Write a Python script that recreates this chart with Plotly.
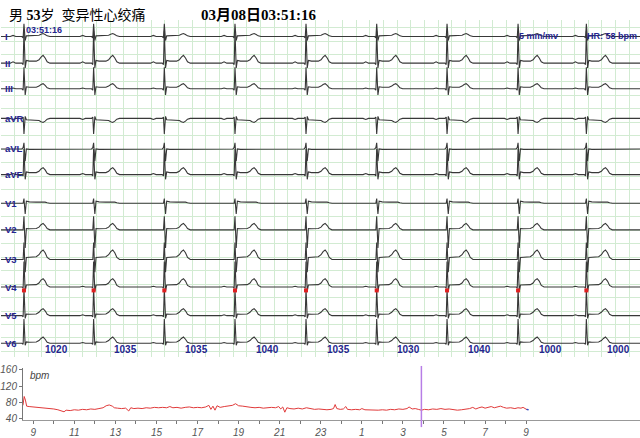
import plotly.graph_objects as go

# ---------------- data ----------------
lead_names = ["I", "II", "III", "aVR", "aVL", "aVF", "V1", "V2", "V3", "V4", "V5", "V6"]
rr_ms = [1020, 1035, 1035, 1040, 1035, 1030, 1040, 1000, 1000]

# time offsets (s) of template points relative to each R peak
beat_offsets_s = [-0.30, -0.20, -0.16, -0.12, -0.03, -0.012, 0.0, 0.018, 0.035,
                  0.08, 0.18, 0.22, 0.25, 0.28, 0.31, 0.34, 0.38, 0.50]

# per-lead beat amplitudes (mV)
amp_I   = [0, 0, 0.08, 0, 0, -0.10, 0.95, -0.30, 0.05, 0.05, 0.06, 0.10, 0.17, 0.22, 0.15, 0.05, 0, 0]
amp_II  = [0, 0, 0.10, 0, 0, -0.10, 2.40, -0.35, 0.20, 0.15, 0.15, 0.25, 0.45, 0.58, 0.38, 0.10, 0, 0]
amp_III = [0, 0, 0.06, 0, 0, -0.10, 1.60, -0.45, 0.15, 0.12, 0.12, 0.20, 0.32, 0.38, 0.25, 0.07, 0, 0]
amp_aVR = [0, 0, -0.08, 0, 0, 0.10, -1.15, 0.15, -0.10, -0.10, -0.10, -0.15, -0.25, -0.30, -0.20, -0.06, 0, 0]
amp_aVL = [0, 0, 0.0, 0, 0, 0.10, 0.45, -0.90, 0.0, -0.03, -0.03, -0.03, -0.05, -0.05, -0.03, 0, 0, 0]
amp_aVF = [0, 0, 0.08, 0, 0, -0.10, 1.90, -0.35, 0.20, 0.15, 0.15, 0.25, 0.42, 0.52, 0.35, 0.10, 0, 0]
amp_V1  = [0, 0, 0.05, 0, 0, 0.0, 0.35, -0.80, 0.15, 0.10, 0.08, 0.08, 0.10, 0.12, 0.08, 0.03, 0, 0]
amp_V2  = [0, 0, 0.05, 0, 0, 0.0, 1.00, -1.35, 0.10, 0.08, 0.10, 0.20, 0.38, 0.48, 0.32, 0.10, 0, 0]
amp_V3  = [0, 0, 0.05, 0, 0, 0.0, 1.25, -0.95, 0.15, 0.15, 0.20, 0.35, 0.58, 0.70, 0.50, 0.15, 0, 0]
amp_V4  = [0, 0, 0.06, 0, 0, -0.05, 1.90, -0.30, 0.15, 0.15, 0.18, 0.30, 0.52, 0.62, 0.44, 0.12, 0, 0]
amp_V5  = [0, 0, 0.06, 0, 0, -0.08, 2.00, -0.20, 0.12, 0.10, 0.12, 0.25, 0.42, 0.52, 0.36, 0.10, 0, 0]
amp_V6  = [0, 0, 0.06, 0, 0, -0.08, 1.80, -0.15, 0.10, 0.08, 0.10, 0.20, 0.36, 0.46, 0.30, 0.08, 0, 0]
lead_amps = [amp_I, amp_II, amp_III, amp_aVR, amp_aVL, amp_aVF,
             amp_V1, amp_V2, amp_V3, amp_V4, amp_V5, amp_V6]

# 24h heart-rate trend
hr_hours = [8.50, 8.56, 8.62, 8.68, 8.80, 9.00, 9.20, 9.40, 9.60, 9.80, 10.00, 10.20, 10.40, 10.50,
            10.60, 10.80, 11.00, 11.20, 11.40, 11.60, 11.80, 12.00, 12.20, 12.40, 12.55, 12.70, 12.85,
            12.95, 13.10, 13.30, 13.50, 13.65, 13.75, 13.90, 14.10, 14.30, 14.50, 14.70, 14.90, 15.10,
            15.30, 15.50, 15.65, 15.80, 16.00, 16.20, 16.40, 16.60, 16.80, 17.00, 17.20, 17.40, 17.55,
            17.65, 17.75, 17.85, 17.95, 18.10, 18.30, 18.50, 18.70, 18.85, 19.00, 19.20, 19.40, 19.60,
            19.80, 20.00, 20.20, 20.40, 20.60, 20.80, 20.95, 21.05, 21.15, 21.25, 21.35, 21.50, 21.70,
            21.90, 22.10, 22.30, 22.50, 22.70, 22.90, 23.10, 23.30, 23.50, 23.62, 23.70, 23.78, 23.95,
            24.10, 24.22, 24.30, 24.50, 24.70, 24.90, 25.00, 25.15, 25.40, 25.60, 25.80, 26.00, 26.20,
            26.40, 26.60, 26.80, 27.00, 27.20, 27.30, 27.45, 27.60, 27.75, 27.90, 28.05, 28.25, 28.45,
            28.65, 28.85, 29.05, 29.25, 29.45, 29.65, 29.85, 30.05, 30.25, 30.40, 30.55, 30.70, 30.85,
            31.00, 31.15, 31.30, 31.45, 31.60, 31.75, 31.90, 32.05, 32.25, 32.45, 32.60, 32.75, 32.85,
            32.95, 33.05]
hr_bpm = [72, 94, 85, 70, 69, 68, 67, 67, 66, 64, 63, 61, 58, 56,
          60, 59, 61, 60, 62, 61, 63, 62, 64, 66, 71, 73, 70,
          66, 65, 64, 65, 58, 66, 64, 65, 64, 66, 65, 67, 66,
          67, 66, 69, 66, 67, 65, 67, 68, 66, 67, 66, 68, 72,
          62, 70, 60, 71, 67, 69, 70, 72, 76, 71, 70, 68, 67,
          66, 67, 65, 66, 67, 66, 69, 63, 68, 55, 66, 64, 63,
          65, 63, 66, 64, 62, 63, 62, 61, 62, 64, 74, 64, 62,
          63, 69, 62, 61, 62, 61, 64, 61, 60, 61, 60, 61, 60,
          62, 61, 63, 62, 64, 68, 63, 64, 62, 60, 62, 61, 63,
          62, 64, 62, 63, 61, 60, 61, 62, 64, 67, 63, 66, 68,
          65, 67, 69, 66, 68, 70, 67, 65, 66, 64, 66, 65, 67,
          64, 61]
hr_now_hours = [33.02, 33.12]
hr_now_bpm = [62, 61]
cursor_hour = 27.90

x_tick_vals = [9, 11, 13, 15, 17, 19, 21, 23, 25, 27, 29, 31, 33]
x_tick_text = ["9", "11", "13", "15", "17", "19", "21", "23", "1", "3", "5", "7", "9"]
y_tick_vals = [40, 80, 120, 160]

# ---------------- layout constants ----------------
W, H = 640, 438
PX_PER_S = 68.4
PX_PER_MV = 13.68
R0_PX = 23            # x of first R peak
ECG_TOP, ECG_BOT = 17, 359
baseline_px = [34, 61, 87, 117, 148, 174, 203, 230, 260, 288, 317, 345]
BLUE = "#25258f"
TRACE = "#383838"
GRID = "#d2ebd2"

t_lo = -R0_PX / PX_PER_S
t_hi = (W - R0_PX) / PX_PER_S
mv_lo = -(ECG_BOT - ECG_TOP) / PX_PER_MV


def px_to_mv(py):
    return -(py - ECG_TOP) / PX_PER_MV


def px_to_t(px):
    return (px - R0_PX) / PX_PER_S


beats = [0.0]
for rr in rr_ms:
    beats.append(beats[-1] + rr / 1000.0)

fig = go.Figure()

for name, amps, bpx in zip(lead_names, lead_amps, baseline_px):
    base = px_to_mv(bpx)
    xs, ys = [t_lo], [base]
    for b in beats:
        for off, a in zip(beat_offsets_s, amps):
            xs.append(b + off)
            ys.append(base + a)
    xs.append(t_hi + 0.5)
    ys.append(base)
    fig.add_trace(go.Scatter(x=xs, y=ys, mode="lines", name=name,
                             line=dict(color=TRACE, width=1.1), xaxis="x", yaxis="y",
                             hoverinfo="skip"))

# red beat markers on V4
v4_base = px_to_mv(baseline_px[9])
fig.add_trace(go.Scatter(x=beats, y=[v4_base - 0.25] * len(beats), mode="markers",
                         marker=dict(symbol="square", size=4, color="#e02020"),
                         xaxis="x", yaxis="y", hoverinfo="skip"))

# HR trend
fig.add_trace(go.Scatter(x=hr_hours, y=hr_bpm, mode="lines",
                         line=dict(color="#e03a3a", width=1), xaxis="x2", yaxis="y2",
                         hoverinfo="skip"))
fig.add_trace(go.Scatter(x=hr_now_hours, y=hr_now_bpm, mode="lines",
                         line=dict(color="#2a4fd0", width=1.5), xaxis="x2", yaxis="y2",
                         hoverinfo="skip"))

annotations = []
# title
annotations.append(dict(text="男 <b>53</b>岁  变异性心绞痛", x=6 / W, y=1 - 12 / H,
                        xref="paper", yref="paper", xanchor="left", yanchor="middle",
                        showarrow=False,
                        font=dict(family="Liberation Serif, Noto Sans CJK SC", size=14, color="#000")))
annotations.append(dict(text="<b>03月08日03:51:16</b>", x=198 / W, y=1 - 12 / H,
                        xref="paper", yref="paper", xanchor="left", yanchor="middle",
                        showarrow=False,
                        font=dict(family="Liberation Serif, Noto Sans CJK SC", size=15, color="#000")))
# lead labels
for name, bpx in zip(lead_names, baseline_px):
    annotations.append(dict(text="<b>" + name + "</b>", x=2 / W, y=1 - bpx / H,
                            xref="paper", yref="paper", xanchor="left", yanchor="middle",
                            showarrow=False,
                            font=dict(family="Liberation Sans, Arial", size=9.5, color=BLUE)))
# info texts
for txt, px, py in [("03:51:16", 23, 27), ("5 mm/mv", 517, 33), ("HR: 58 bpm", 585, 33)]:
    annotations.append(dict(text="<b>" + txt + "</b>", x=px / W, y=1 - py / H,
                            xref="paper", yref="paper", xanchor="left", yanchor="middle",
                            showarrow=False,
                            font=dict(family="Liberation Sans, Arial", size=9, color=BLUE)))
# RR interval labels
for b, rr in zip(beats, rr_ms):
    annotations.append(dict(text="<b>%d</b>" % rr, x=b + 0.47, y=px_to_mv(351),
                            xref="x", yref="y", xanchor="center", yanchor="middle",
                            showarrow=False,
                            font=dict(family="Liberation Sans, Arial", size=10, color=BLUE)))
annotations.append(dict(text="<i>bpm</i>", x=27 / W, y=1 - 378 / H, xref="paper", yref="paper",
                        xanchor="left", yanchor="middle", showarrow=False,
                        font=dict(family="Liberation Sans, Arial", size=10, color="#444")))

# HR panel geometry
HR_PX_PER_H = 20.57
HR_X0 = 22
hr_range = [8.5, 8.5 + (W - HR_X0) / HR_PX_PER_H]
bpm_px = 49 / 120
y160, y40 = 372, 421
hr_y_lo, hr_y_hi = 35, 165
hr_dom = [1 - (y40 + 5 * bpm_px) / H, 1 - (y160 - 5 * bpm_px) / H]

fig.update_layout(
    width=W, height=H,
    margin=dict(l=0, r=0, t=0, b=0),
    paper_bgcolor="white", plot_bgcolor="white",
    showlegend=False,
    annotations=annotations,
    xaxis=dict(domain=[0, 1], range=[t_lo, t_hi], showgrid=True, gridcolor=GRID,
               gridwidth=1, tick0=px_to_t(0), dtick=0.2, showticklabels=False,
               zeroline=False, showline=False, ticks="", fixedrange=True),
    yaxis=dict(domain=[1 - ECG_BOT / H, 1 - ECG_TOP / H], range=[mv_lo, 0], showgrid=True,
               gridcolor=GRID, gridwidth=1, tick0=px_to_mv(25), dtick=1,
               showticklabels=False, zeroline=False, showline=False, ticks="", fixedrange=True),
    xaxis2=dict(domain=[HR_X0 / W, 1], range=hr_range, anchor="y2", showgrid=False,
                zeroline=False, showline=True, linecolor="#999", linewidth=1,
                tickvals=x_tick_vals, ticktext=x_tick_text, ticks="outside", ticklen=3,
                tickcolor="#777",
                tickfont=dict(family="Liberation Sans, Arial", size=10, color="#555", style="italic"),
                minor=dict(tickvals=list(range(10, 34, 2)), ticks="outside", ticklen=3,
                           tickcolor="#777", showgrid=False),
                fixedrange=True),
    yaxis2=dict(domain=hr_dom, range=[hr_y_lo, hr_y_hi], anchor="x2", showgrid=False,
                zeroline=False, showline=True, linecolor="#777", linewidth=1,
                tickvals=y_tick_vals, ticks="outside", ticklen=3, tickcolor="#777",
                tickfont=dict(family="Liberation Sans, Arial", size=10, color="#555", style="italic"),
                fixedrange=True),
    shapes=[dict(type="line", xref="x2", yref="paper", x0=cursor_hour, x1=cursor_hour,
                 y0=1 - 430 / H, y1=1 - 368 / H, line=dict(color="#b77ee6", width=1.5))],
)

fig.write_html("out.html", config={"displayModeBar": False},
               post_script="document.body.style.margin='0';document.body.style.overflow='hidden';")
